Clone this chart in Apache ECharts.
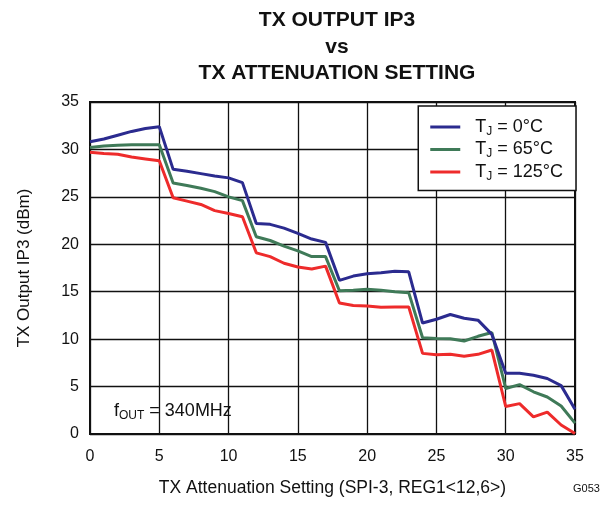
<!DOCTYPE html>
<html><head><meta charset="utf-8">
<script src="https://cdn.jsdelivr.net/npm/echarts@6/dist/echarts.min.js"></script>
<style>html,body{margin:0;padding:0;background:#fff}#c{width:605px;height:505px}</style>
</head><body><div id="c"></div>
<script>
const xValues = [0,1,2,3,4,5,6,7,8,9,10,11,12,13,14,15,16,17,18,19,20,21,22,23,24,25,26,27,28,29,30,31,32,33,34,35];
const tj0 = [30.8,31.1,31.5,31.9,32.2,32.4,27.9,27.7,27.45,27.2,27.0,26.5,22.2,22.1,21.7,21.15,20.55,20.2,16.2,16.65,16.9,17.0,17.15,17.1,11.7,12.1,12.6,12.2,12.0,10.5,6.4,6.4,6.2,5.85,5.1,2.6];
const tj65 = [30.2,30.35,30.45,30.5,30.5,30.5,26.45,26.2,25.9,25.55,25.0,24.6,20.8,20.4,19.8,19.3,18.7,18.7,15.1,15.15,15.25,15.15,15.0,14.9,10.15,10.07,10.05,9.8,10.3,10.7,4.8,5.2,4.45,3.9,2.95,1.15];
const tj125 = [29.7,29.57,29.5,29.2,29.0,28.8,24.9,24.55,24.2,23.55,23.25,22.9,19.1,18.7,18.0,17.6,17.4,17.7,13.8,13.55,13.5,13.35,13.4,13.4,8.5,8.35,8.4,8.2,8.4,8.85,2.9,3.2,1.8,2.3,0.95,0.05];
const seriesNames = ['0°C','65°C','125°C'];
const colors = ['#2b2b8f','#3f7a58','#ee2b2b'];
const titleLines = ['TX OUTPUT IP3','vs','TX ATTENUATION SETTING'];
const xTitle = 'TX Attenuation Setting (SPI-3, REG1<12,6>)';
const yTitle = 'TX Output IP3 (dBm)';

const F = 'Liberation Sans, Arial, sans-serif';
const chart = echarts.init(document.getElementById('c'));
const mk = (d) => xValues.map((x,i)=>[x,d[i]]);
const datasets = [tj0, tj65, tj125];
const titleY = [20, 47, 73.5];
chart.setOption({
  animation:false,
  grid:{left:90,right:30,top:102,bottom:71,show:true,borderColor:'#111',borderWidth:2},
  xAxis:{type:'value',min:0,max:35,interval:5,
    axisLine:{show:false},axisTick:{show:false},
    splitLine:{show:true,lineStyle:{color:'#111',width:1.3}},
    axisLabel:{color:'#111',fontFamily:F,fontSize:16,margin:15},
    name:xTitle,nameLocation:'middle',nameGap:45,
    nameTextStyle:{color:'#111',fontFamily:F,fontSize:17.5}},
  yAxis:{type:'value',min:0,max:35,interval:5,
    axisLine:{show:false},axisTick:{show:false},
    splitLine:{show:true,lineStyle:{color:'#111',width:1.3}},
    axisLabel:{color:'#111',fontFamily:F,fontSize:16,margin:11},
    name:yTitle,nameLocation:'middle',nameGap:57,
    nameTextStyle:{color:'#111',fontFamily:F,fontSize:17}},
  legend:{right:29,top:106,orient:'vertical',
    backgroundColor:'#fff',borderColor:'#111',borderWidth:1.5,borderRadius:0,
    padding:[12,13,8,12],itemGap:3,itemWidth:30,itemHeight:20,
    icon:'path://M0,8.5H30V11.5H0Z',
    formatter:(n)=>'{g|}{t|T}{s|J}{t| = '+n+'}',
    textStyle:{rich:{g:{width:10},t:{fontFamily:F,fontSize:18,color:'#111',lineHeight:20},s:{fontFamily:F,fontSize:12,color:'#111',verticalAlign:'bottom',padding:[9,0,0,0]}}},
    data:seriesNames},
  series: datasets.map((d,i)=>({name:seriesNames[i],type:'line',data:mk(d),showSymbol:false,
    lineStyle:{color:colors[i],width:3},itemStyle:{color:colors[i]},z:5-i})),
  graphic:[
    ...titleLines.map((t,i)=>({type:'text',x:337,y:titleY[i],style:{text:t,font:'bold 21px '+F,fill:'#111',textAlign:'center',textVerticalAlign:'middle'}})),
    {type:'text',x:114,y:401,style:{rich:{t:{font:'18px '+F,fill:'#111'},s:{font:'12px '+F,fill:'#111',padding:[9,0,0,0]}},text:'{t|f}{s|OUT}{t| = 340MHz}'}},
    {type:'text',x:573,y:483,style:{text:'G053',font:'11px '+F,fill:'#111'}}
  ]
});
</script></body></html>
